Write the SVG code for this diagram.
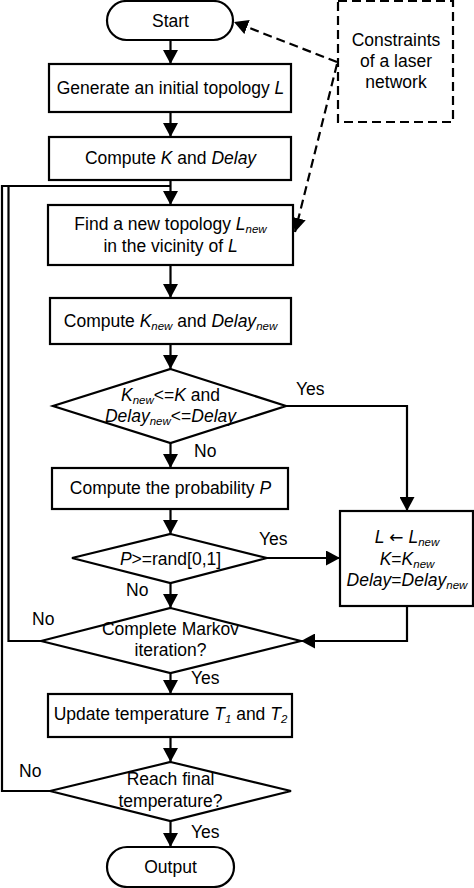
<svg xmlns="http://www.w3.org/2000/svg" width="474" height="888" viewBox="0 0 474 888">
<style>
.n{fill:#fff;stroke:#000;stroke-width:2.2}
.t{font-family:"Liberation Sans",Arial,sans-serif;font-size:17.5px;fill:#000;text-anchor:middle}
.l{font-family:"Liberation Sans",Arial,sans-serif;font-size:17.5px;fill:#000}
.i{font-style:italic}
.s{font-size:11.5px;font-style:italic}
.ar{font-family:"DejaVu Sans",sans-serif;font-size:17px}
.c{fill:none;stroke:#000;stroke-width:2.2}
.d{fill:none;stroke:#000;stroke-width:2.2;stroke-dasharray:9,5}
</style>
<defs>
<marker id="ah" markerUnits="userSpaceOnUse" markerWidth="15" markerHeight="15" refX="14" refY="7.5" orient="auto" viewBox="0 0 15 15">
<path d="M0,0 L14,7.5 L0,15 z" fill="#000"/>
</marker>
</defs>
<g id="connectors">
<line class="c" x1="170.5" y1="40" x2="170.5" y2="64" marker-end="url(#ah)"/>
<line class="c" x1="170.5" y1="112" x2="170.5" y2="137" marker-end="url(#ah)"/>
<line class="c" x1="170.5" y1="180" x2="170.5" y2="205" marker-end="url(#ah)"/>
<line class="c" x1="170.5" y1="265" x2="170.5" y2="298" marker-end="url(#ah)"/>
<line class="c" x1="170.5" y1="344" x2="170.5" y2="369" marker-end="url(#ah)"/>
<line class="c" x1="170.5" y1="443" x2="170.5" y2="468" marker-end="url(#ah)"/>
<line class="c" x1="170.5" y1="509" x2="170.5" y2="534" marker-end="url(#ah)"/>
<line class="c" x1="170.5" y1="583" x2="170.5" y2="608" marker-end="url(#ah)"/>
<line class="c" x1="170.5" y1="673" x2="170.5" y2="694" marker-end="url(#ah)"/>
<line class="c" x1="170.5" y1="737" x2="170.5" y2="762" marker-end="url(#ah)"/>
<line class="c" x1="170.5" y1="821" x2="170.5" y2="847" marker-end="url(#ah)"/>
<polyline class="c" points="286,406 407,406 407,511" marker-end="url(#ah)"/>
<line class="c" x1="267" y1="558" x2="340" y2="558" marker-end="url(#ah)"/>
<polyline class="c" points="407,606 407,641 301,641" marker-end="url(#ah)"/>
<polyline class="c" points="41,641 8.5,641 8.5,186"/>
<polyline class="c" points="50,791 2,791 2,186 170.5,186"/>
<line class="d" x1="337" y1="62" x2="234" y2="22" marker-end="url(#ah)"/>
<line class="d" x1="337" y1="64" x2="295" y2="232" marker-end="url(#ah)"/>
<text class="l" x="296" y="395">Yes</text>
<text class="l" x="194" y="457">No</text>
<text class="l" x="259" y="545">Yes</text>
<text class="l" x="126" y="596">No</text>
<text class="l" x="32" y="625">No</text>
<text class="l" x="191" y="684">Yes</text>
<text class="l" x="19" y="777">No</text>
<text class="l" x="191" y="838">Yes</text>
</g>
<g id="start">
<rect class="n" x="107" y="1" width="126" height="39" rx="19.5"/>
<text class="t" x="170.5" y="27">Start</text>
</g>
<g id="constraints">
<rect x="338" y="1" width="115" height="121" fill="none" stroke="#000" stroke-width="2.2" stroke-dasharray="9,5"/>
<text class="t" x="396" y="46">Constraints</text>
<text class="t" x="396" y="67">of a laser</text>
<text class="t" x="396" y="88">network</text>
</g>
<g id="generate">
<rect class="n" x="49" y="64" width="242" height="48"/>
<text class="t" x="170.5" y="94">Generate an initial topology <tspan class="i">L</tspan></text>
</g>
<g id="computeK">
<rect class="n" x="49" y="137" width="242" height="43"/>
<text class="t" x="170.5" y="164">Compute <tspan class="i">K</tspan> and <tspan class="i">Delay</tspan></text>
</g>
<g id="find">
<rect class="n" x="48" y="205" width="245" height="60"/>
<text class="t" x="170.5" y="230">Find a new topology <tspan class="i">L</tspan><tspan class="s" dy="3">new</tspan></text>
<text class="t" x="170.5" y="252">in the vicinity of <tspan class="i">L</tspan></text>
</g>
<g id="computeKnew">
<rect class="n" x="50" y="298" width="241" height="46"/>
<text class="t" x="170.5" y="327">Compute <tspan class="i">K</tspan><tspan class="s" dy="3">new</tspan><tspan dy="-3">  and </tspan><tspan class="i">Delay</tspan><tspan class="s" dy="3">new</tspan></text>
</g>
<g id="cond1">
<polygon class="n" points="170.5,369 286,406 170.5,443 53,406"/>
<text class="t" x="170.5" y="401"><tspan class="i">K</tspan><tspan class="s" dy="3">new</tspan><tspan dy="-3">&lt;=</tspan><tspan class="i">K</tspan> and</text>
<text class="t" x="170.5" y="422"><tspan class="i">Delay</tspan><tspan class="s" dy="3">new</tspan><tspan dy="-3">&lt;=</tspan><tspan class="i">Delay</tspan></text>
</g>
<g id="computeP">
<rect class="n" x="52" y="468" width="236" height="41"/>
<text class="t" x="170.5" y="494">Compute the probability <tspan class="i">P</tspan></text>
</g>
<g id="cond2">
<polygon class="n" points="170.5,534 267,558 170.5,583 72,558"/>
<text class="t" x="170.5" y="565"><tspan class="i">P</tspan>&gt;=rand[0,1]</text>
</g>
<g id="update">
<rect class="n" x="340" y="511" width="133" height="95"/>
<text class="t" x="407" y="543"><tspan class="i">L</tspan> <tspan class="ar">←</tspan> <tspan class="i">L</tspan><tspan class="s" dy="3">new</tspan></text>
<text class="t" x="407" y="565"><tspan class="i">K</tspan>=<tspan class="i">K</tspan><tspan class="s" dy="3">new</tspan></text>
<text class="t" x="407" y="586"><tspan class="i">Delay</tspan>=<tspan class="i">Delay</tspan><tspan class="s" dy="3">new</tspan></text>
</g>
<g id="cond3">
<polygon class="n" points="170.5,608 301,641 170.5,673 41,641"/>
<text class="t" x="170.5" y="635">Complete Markov</text>
<text class="t" x="170.5" y="656">iteration?</text>
</g>
<g id="temp">
<rect class="n" x="48" y="694" width="244" height="43"/>
<text class="t" x="170.5" y="720">Update temperature <tspan class="i">T</tspan><tspan class="s" dy="3">1</tspan><tspan dy="-3"> and </tspan><tspan class="i">T</tspan><tspan class="s" dy="3">2</tspan></text>
</g>
<g id="cond4">
<polygon class="n" points="170.5,762 291,791 170.5,821 50,791"/>
<text class="t" x="170.5" y="785">Reach final</text>
<text class="t" x="170.5" y="807">temperature?</text>
</g>
<g id="output">
<rect class="n" x="107" y="847" width="127" height="40" rx="20"/>
<text class="t" x="170.5" y="873">Output</text>
</g>
</svg>
